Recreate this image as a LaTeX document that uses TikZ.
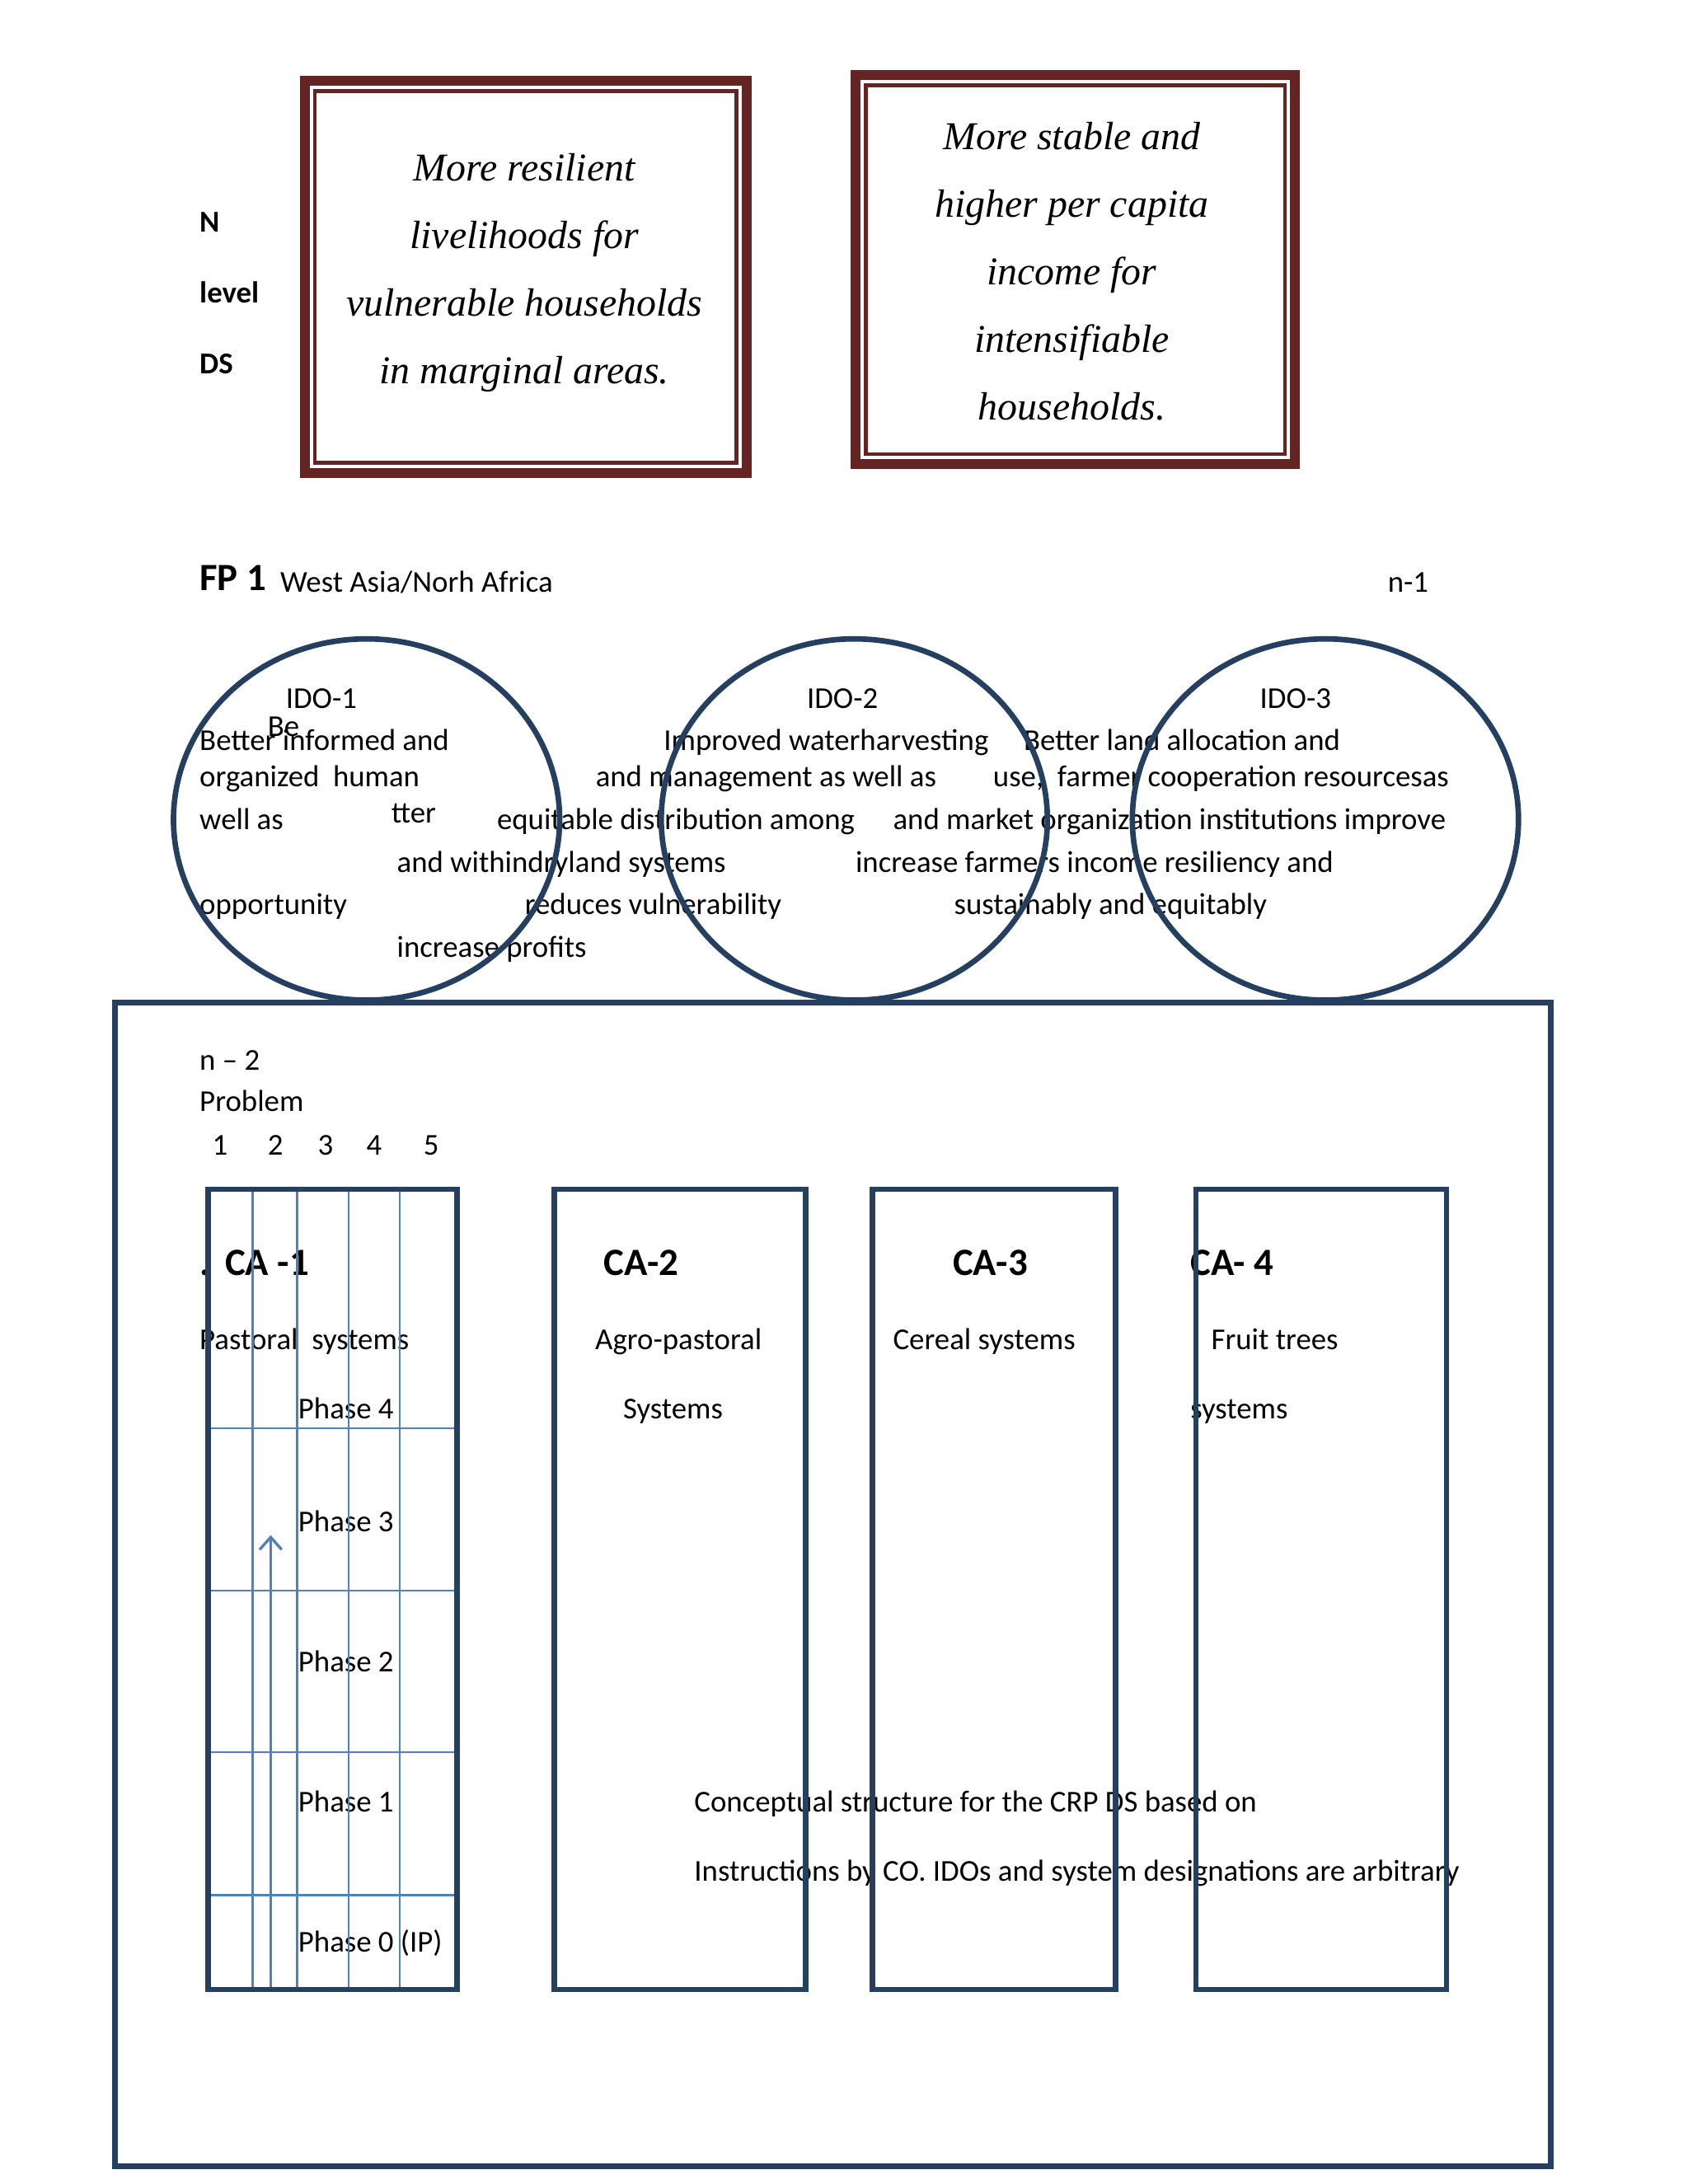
\documentclass[tikz,border=0pt]{standalone}
\usepackage{fontspec}
\setmainfont{Carlito}
\newfontfamily\serifit{Liberation Serif}
\usetikzlibrary{arrows.meta,shapes.geometric}
\definecolor{dred}{HTML}{632423}
\definecolor{dblue}{HTML}{243F60}
\definecolor{gblue}{HTML}{4F81BD}
\begin{document}
\begin{tikzpicture}[x=0.50383pt,y=-0.50383pt,
  t/.style={inner sep=0,anchor=mid west,font=\fontsize{11}{13}\selectfont},
  tc/.style={inner sep=0,anchor=mid,font=\fontsize{11}{13}\selectfont},
  tb/.style={inner sep=0,anchor=mid west,font=\bfseries\fontsize{11}{13}\selectfont},
  hd/.style={inner sep=0,anchor=mid west,font=\bfseries\fontsize{14}{16}\selectfont},
  goal/.style={inner sep=0,anchor=center,align=center,font=\serifit\itshape\fontsize{14.3}{24.5}\selectfont},
  thickframe/.style={draw=dred,line width=3.6pt},
  thinframe/.style={draw=dred,line width=1.3pt},
  ido/.style={ellipse,draw=dblue,line width=2pt,minimum width=140pt,minimum height=131pt,inner sep=0},
  cabox/.style={draw=dblue,line width=1.9pt},
  grid/.style={draw=gblue,line width=0.7pt}]
\useasboundingbox (-1.78,-1.78) rectangle (1212.9,1570.0);
\fill[white] (-1.78,-1.78) rectangle (1212.9,1570.0);

% ---------- texts (drawn first, shapes go over them) ----------
\begin{scope}[shift={(-1.5,2.5)}]
\node[tb] (tN) at (143,158) {N};
\node[tb] (tlevel) at (143,209) {level};
\node[tb] (tDS) at (143,260) {DS};

\node[goal] (g1) at (377,192) {More resilient\\livelihoods for\\vulnerable households\\in marginal areas.};
\node[goal] (g2) at (771,191) {More stable and\\higher per capita\\income for\\intensifiable\\households.};

\node[inner sep=0,anchor=mid west,font=\bfseries\fontsize{14}{16}\selectfont] (fp) at (143,416) {FP 1};
\node[t] (wana) at (201,417) {West Asia/Norh Africa};
\node[t] (n1) at (998,417) {n-1};

\node[tc] (i1) at (231,501) {IDO-1};
\node[tc] (i2) at (606,501) {IDO-2};
\node[tc] (i3) at (932,501) {IDO-3};

\node[t] (a0) at (192,521) {Be};
\node[t] (a1) at (143,531) {Better informed and};
\node[t] (a2) at (143,557) {organized\ \ human};
\node[t] (a3) at (143,588) {well as};
\node[t] (a4) at (281,583) {tter};
\node[t] (a5) at (143,649) {opportunity};
\node[t] (a6) at (285,619) {and withindryland systems};
\node[t] (a7) at (377,649) {reduces vulnerability};
\node[t] (a8) at (285,680) {increase profits};

\node[t] (b1) at (477,531) {Improved waterharvesting};
\node[t] (b2) at (428,557) {and management as well as};
\node[t] (b3) at (357,588) {equitable distribution among};

\node[t] (c1) at (736,531) {Better land allocation and};
\node[t] (c2) at (714,557) {use,\ \ farmer cooperation resourcesas};
\node[t] (c3) at (642,588) {and market organization institutions improve};
\node[t] (c4) at (615,619) {increase farmers income resiliency and};
\node[t] (c5) at (686,649) {sustainably and equitably};

\node[t] (n2) at (143,761) {n -- 2};
\node[t] (prob) at (143,791) {Problem};
\node[tc] (p1) at (158,822) {1};
\node[tc] (p2) at (198,822) {2};
\node[tc] (p3) at (234,822) {3};
\node[tc] (p4) at (269,822) {4};
\node[tc] (p5) at (310,822) {5};

\node[hd] (ca1) at (143,909) {.\hspace{5.5pt}CA -1};
\node[t] (ca1s) at (143,962) {Pastoral\ \ systems};
\node[t] (ph4) at (214,1012) {Phase 4};
\node[t] (ph3) at (214,1093) {Phase 3};
\node[t] (ph2) at (214,1194) {Phase 2};
\node[t] (ph1) at (214,1295) {Phase 1};
\node[t] (ph0) at (214,1396) {Phase 0 (IP)};

\node[hd] (ca2) at (434,909) {CA-2};
\node[tc] (ca2s) at (488,962) {Agro-pastoral};
\node[tc] (ca2t) at (484,1012) {Systems};

\node[hd] (ca3) at (685,909) {CA-3};
\node[tc] (ca3s) at (708,962) {Cereal systems};

\node[hd] (ca4) at (856,909) {CA- 4};
\node[t] (ca4s) at (871,962) {Fruit trees};
\node[t] (ca4t) at (856,1012) {systems};

\node[t] (note1) at (499,1295) {Conceptual structure for the CRP DS based on};
\node[t] (note2) at (499,1345) {Instructions by CO. IDOs and system designations are arbitrary};
\end{scope}

% ---------- goal frames ----------
\draw[thickframe] (217.6,56.6) rectangle (535.4,338.4);
\draw[thinframe] (224.8,63.8) rectangle (528.2,331.2);
\draw[thickframe] (614,52.4) rectangle (930,332.4);
\draw[thinframe] (621.2,59.6) rectangle (922.8,325.2);

% ---------- IDO ellipses ----------
\node[ido] (e1) at (262,588) {};
\node[ido] (e2) at (613,588) {};
\node[ido] (e3) at (952,588) {};

% ---------- big frame ----------
\draw[draw=dblue,line width=2.1pt] (80.7,719.9) rectangle (1114.4,1557.4);

% ---------- CA-1 grid ----------
\foreach \gx in {180,212,249,286} \draw[grid] (\gx,854) -- (\gx,1430);
\foreach \gy in {1026,1143,1259,1362} \draw[grid] (148,\gy) -- (327,\gy);
\coordinate (abot) at (193,1430);
\coordinate (atop) at (193,1103);
\draw[gblue,line width=1pt,-{Straight Barb[length=4.5pt,width=8pt]}] (abot) -- (atop);

% ---------- CA boxes ----------
\draw[cabox] (148,854) rectangle (327,1430);
\draw[cabox] (397,854) rectangle (578,1430);
\draw[cabox] (626,854) rectangle (801,1430);
\draw[cabox] (859,854) rectangle (1039,1430);
\end{tikzpicture}
\end{document}
